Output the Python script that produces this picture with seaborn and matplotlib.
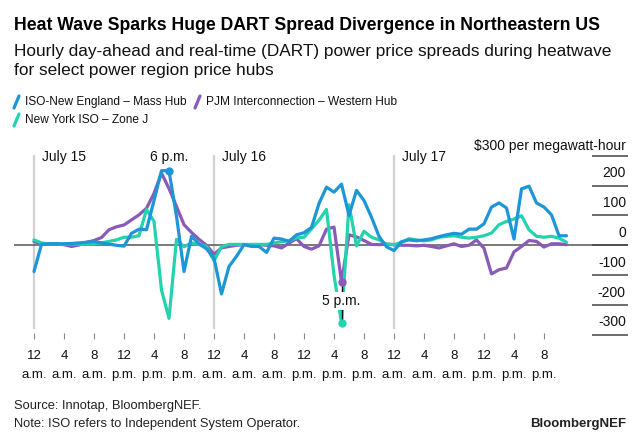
import numpy as np
import pandas as pd
import matplotlib
matplotlib.use("Agg")
import matplotlib.pyplot as plt
import seaborn as sns
from matplotlib.lines import Line2D

# hourly DART spreads, $/MWh, July 15 00:00 -> July 17 23:00
iso_ne = [-88, 3, 5, 5, 5, 6, 8, 10, 12, 8, 4, 0, -3, 40, 54, 52, 150, 250, 250, 97, -88, 30, 5, -12,
          -43, -163, -71, -37, 2, -4, -4, -24, 24, 21, 13, 35, 42, 60, 140, 195, 178, 205, 100, 184, 150, 94, 30, -5,
          -18, 12, 18, 15, 18, 22, 29, 35, 40, 37, 54, 54, 72, 128, 142, 125, 21, 189, 198, 142, 128, 102, 32, 32]
pjm = [12, 6, 4, 4, 2, -4, 1, 10, 16, 26, 52, 62, 68, 85, 102, 124, 174, 242, 190, 130, 69, 43, 20, 0,
       -30, -9, -4, 0, 2, 2, 2, 0, -2, -9, 7, 22, -4, -13, -2, 54, 61, -123, 35, 28, 16, 3, 2, 4,
       2, 0, 0, -2, 0, -4, -9, -2, 5, -4, 0, 18, -10, -96, -82, -76, -22, -4, 16, 13, -6, 5, 5, 2]
nyiso = [18, 8, 4, 4, 4, 4, 4, 4, 5, 8, 13, 18, 27, 27, 32, 120, 80, -150, -245, 20, -5, 8, 3, -4,
         -52, -5, 3, 3, 3, 3, 3, 3, 8, 12, 15, 25, 27, 55, 84, 120, -100, -260, 136, -2, 47, 27, 18, 4,
         2, 10, 22, 18, 15, 18, 27, 30, 32, 27, 24, 27, 32, 41, 69, 80, 88, 99, 52, 30, 27, 30, 24, 10]

hubs = ["PJM Interconnection – Western Hub", "New York ISO – Zone J", "ISO-New England – Mass Hub"]
colors = {"ISO-New England – Mass Hub": "#1d96d8",
          "PJM Interconnection – Western Hub": "#8a5ab8",
          "New York ISO – Zone J": "#22d3ae"}

day_labels = ["July 15", "July 16", "July 17"]
tick_hours = list(range(0, 72, 4))
tick_labels = ["12\na.m.", "4\na.m.", "8\na.m.", "12\np.m.", "4\np.m.", "8\np.m."] * 3
y_levels = [200, 100, 0, -100, -200, -300]

hours = np.arange(72)
df = pd.DataFrame({
    "hour": np.tile(hours, 3),
    "spread": iso_ne + pjm + nyiso,
    "hub": ["ISO-New England – Mass Hub"] * 72 + ["PJM Interconnection – Western Hub"] * 72
           + ["New York ISO – Zone J"] * 72,
})

sns.set_theme(style="white")
plt.rcParams["font.family"] = ["Liberation Sans", "DejaVu Sans"]

fig = plt.figure(figsize=(6.4, 4.4), dpi=100)
ax = fig.add_axes([14 / 640, 1 - 333 / 440, 614 / 640, 185 / 440])

ax.axhline(0, color="#555555", lw=1.1, zorder=1)
for d in range(3):
    ax.vlines(d * 24, -280, 302, color="#d0d0d0", lw=1.6, zorder=0)
    ax.text(d * 24 + 1.1, 296, day_labels[d], fontsize=10, va="center", ha="left", color="#111111")

sns.lineplot(data=df, x="hour", y="spread", hue="hub", hue_order=hubs, palette=colors,
             lw=2.3, legend=False, ax=ax, zorder=3)

# annotations
ax.plot([18], [iso_ne[18]], "o", color=colors["ISO-New England – Mass Hub"], ms=5, zorder=5)
ax.text(18, 296, "6 p.m.", ha="center", va="center", fontsize=10, color="#111111")
ax.plot([41, 41], [pjm[41], nyiso[41]], color="#111111", lw=1, zorder=4)
ax.plot([41], [pjm[41]], "o", color=colors["PJM Interconnection – Western Hub"], ms=5, zorder=5)
ax.plot([41], [nyiso[41]], "o", color=colors["New York ISO – Zone J"], ms=5, zorder=5)
ax.text(41, -186, "5 p.m.", ha="center", va="center", fontsize=10, color="#111111",
        bbox=dict(facecolor="white", edgecolor="none", pad=1.5), zorder=6)

# right-hand axis scale
ax.hlines([300] + y_levels, 74.4, 79.2, color="#444444", lw=1.1, clip_on=False)
for v in y_levels:
    ax.text(78.9, v + 28, str(v), ha="right", va="baseline", fontsize=10, color="#111111")
ax.text(78.9, 318, "$300 per megawatt-hour", ha="right", va="baseline", fontsize=10, color="#111111")

ax.set_xlim(-2.667, 79.2)
ax.set_ylim(-294, 326)
ax.set_xticks(tick_hours)
ax.set_xticklabels(tick_labels, fontsize=9.5, linespacing=1.85, color="#111111")
ax.set_yticks([])
ax.tick_params(axis="x", length=4, width=0.8, color="#888888", pad=8, bottom=True)
ax.set_xlabel("")
ax.set_ylabel("")
for s in ax.spines.values():
    s.set_visible(False)

# titles
fig.text(14 / 640, 1 - 25 / 440, "Heat Wave Sparks Huge DART Spread Divergence in Northeastern US",
         fontsize=12.7, fontweight="bold", va="center", ha="left", color="#000000")
fig.text(14 / 640, 1 - 61 / 440,
         "Hourly day-ahead and real-time (DART) power price spreads during heatwave\nfor select power region price hubs",
         fontsize=12.4, va="center", ha="left", color="#111111", linespacing=1.3)

# legend
def legend_item(x, y, label, color):
    fig.add_artist(Line2D([x / 640, (x + 5) / 640], [1 - (y + 6) / 440, 1 - (y - 6) / 440],
                          color=color, lw=2.3, transform=fig.transFigure))
    fig.text((x + 11) / 640, 1 - y / 440, label, fontsize=8.6, va="center", ha="left",
             color="#111111")

legend_item(14, 102, "ISO-New England – Mass Hub", colors["ISO-New England – Mass Hub"])
legend_item(195, 102, "PJM Interconnection – Western Hub", colors["PJM Interconnection – Western Hub"])
legend_item(14, 120, "New York ISO – Zone J", colors["New York ISO – Zone J"])

fig.text(14 / 640, 1 - 406 / 440, "Source: Innotap, BloombergNEF.", fontsize=9.3, va="center", ha="left",
         color="#222222")
fig.text(14 / 640, 1 - 424 / 440, "Note: ISO refers to Independent System Operator.", fontsize=9.3,
         va="center", ha="left", color="#222222")
fig.text(626 / 640, 1 - 424 / 440, "BloombergNEF", fontsize=9.5, fontweight="bold", va="center",
         ha="right", color="#222222")

fig.savefig("out.png", dpi=100)
